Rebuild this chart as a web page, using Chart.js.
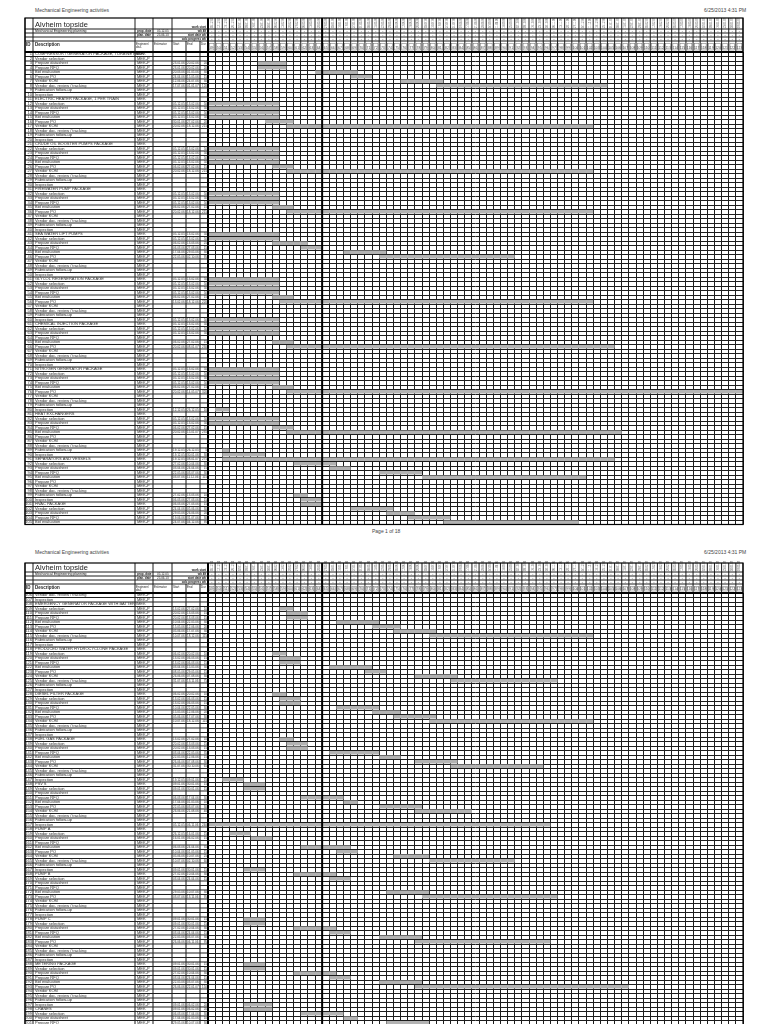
<!DOCTYPE html>
<html>
<head>
<meta charset="utf-8">
<script src="https://cdn.jsdelivr.net/npm/chart.js@4.4.1/dist/chart.umd.min.js"></script>
<style>
  body { margin: 0; width: 768px; height: 1024px; overflow: hidden; position: relative; background: #fff;
         font-family: "Liberation Sans", Arial, sans-serif; }
  .note { position: absolute; font-size: 5px; color: #444; white-space: nowrap; }
  canvas { position: absolute; left: 0; }
</style>
</head>
<body>
<div class="note" style="left:35px;top:7px">Mechanical Engineering activities</div>
<div class="note" style="left:704px;top:7px">6/25/2013 4:31 PM</div>
<div class="note" style="left:372px;top:528px">Page 1 of 18</div>
<div class="note" style="left:35px;top:549px">Mechanical Engineering activities</div>
<div class="note" style="left:704px;top:549px">6/25/2013 4:31 PM</div>
<canvas id="page1" width="768" height="540" style="top:0"></canvas>
<canvas id="page2" width="768" height="510" style="top:541px"></canvas>
<script>
// week columns of the schedule
const weekLabels = [49, 50, 51, 52, 53, 54, 55, 56, 57, 58, 59, 60, 61, 62, 63, 64, 65, 66, 67, 68,
  69, 70, 71, 72, 73, 74, 75, 76, 77, 78, 79, 80, 81, 82, 83, 84, 85, 86, 87, 88, 89, 90, 91, 92, 93,
  94, 95, 96, 97, 98, 99, 100, 101, 102, 103, 104, 105, 106, 107, 108, 109, 110, 111, 112, 113, 114,
  115, 116, 117, 118, 119, 120, 121, 122, 123];

const activityNames = ['Vendor selection', 'Prepare datasheet', 'Prepare RFQ', 'Bid evaluation',
  'Prepare PO', 'Vendor KOM', 'Vendor doc. review / tracking', 'Fabrication follow-up', 'Inspection'];

const packagesPage1 = ['COMPRESSOR / GENERATOR PACKAGE, TURBINE PACK', 'ELECTRIC HEATER PACKAGE, 1 PER TRAIN',
  'CRUDE OIL BOOSTER PUMPS PACKAGE', 'FIREWATER PUMP PACKAGE', 'SEA WATER LIFT PUMPS',
  'GLYCOL REGENERATION PACKAGE', 'CHEMICAL INJECTION PACKAGE', 'NITROGEN GENERATOR PACKAGE',
  'HEAT EXCHANGERS', 'SEPARATORS AND VESSELS', 'HVAC PACKAGE'];

const packagesPage2 = ['EMERGENCY GENERATOR PACKAGE WITH BATTERY', 'PRODUCED WATER HYDROCYCLONE PACKAGE',
  'DIESEL FILTER PACKAGE', 'FUEL GAS PACKAGE', "PSV'S", 'PUMP A', 'PUMP B', 'PUMP C',
  'METERING PACKAGE', 'CRANES'];

// [row, start week, end week]
const page1Bars = [
  [2, 56, 60], [3, 56, 60], [4, 64, 70], [5, 69, 72], [6, 76, 82], [7, 81, 105],
  [11, 49, 59], [12, 49, 59], [13, 49, 59], [14, 49, 59], [15, 57, 61], [16, 60, 103],
  [21, 49, 59], [22, 49, 59], [23, 49, 59], [24, 49, 59], [25, 58, 61], [26, 60, 103],
  [31, 49, 59], [32, 49, 59], [33, 49, 59], [34, 58, 61], [35, 60, 103],
  [40, 49, 59], [41, 49, 59], [42, 58, 63], [43, 62, 65], [44, 68, 74], [45, 73, 92],
  [50, 49, 59], [51, 49, 59], [52, 49, 59], [53, 49, 59], [54, 58, 61], [55, 59, 103],
  [59, 49, 59], [60, 49, 59], [61, 49, 59], [62, 49, 59], [64, 58, 61], [65, 60, 106],
  [70, 49, 59], [71, 49, 59], [72, 49, 59], [73, 49, 59], [74, 58, 61], [75, 60, 124],
  [79, 50, 52], [81, 49, 59], [82, 49, 59], [83, 58, 61], [84, 60, 107],
  [88, 51, 52], [89, 51, 57], [90, 51, 106], [91, 61, 67], [92, 66, 69], [93, 73, 79], [94, 79, 102],
  [98, 61, 63], [99, 62, 65], [100, 62, 65], [101, 69, 75], [102, 74, 78], [103, 77, 83], [104, 82, 101]
];

const page2Bars = [
  [3, 59, 61], [4, 60, 63], [5, 60, 63], [6, 67, 73], [7, 72, 76], [8, 75, 81], [9, 80, 103],
  [13, 58, 60], [14, 59, 62], [15, 59, 62], [16, 66, 72], [17, 71, 74], [18, 78, 84], [19, 83, 98],
  [22, 58, 60], [23, 59, 62], [24, 59, 62], [25, 67, 73], [26, 72, 76], [27, 75, 81], [28, 80, 103],
  [32, 59, 61], [33, 60, 63], [34, 60, 63], [35, 66, 73], [36, 73, 76], [37, 78, 84], [38, 83, 96],
  [41, 51, 54], [42, 54, 57], [43, 54, 57], [45, 62, 68], [46, 68, 70], [47, 73, 79], [48, 78, 86],
  [51, 49, 97],
  [53, 52, 55], [54, 55, 58], [56, 62, 69], [57, 67, 70], [58, 75, 80], [59, 80, 92],
  [61, 54, 57], [62, 61, 67], [63, 66, 69], [66, 74, 80], [67, 79, 98],
  [72, 54, 57], [73, 54, 57], [74, 61, 67], [75, 66, 69], [76, 73, 79], [77, 78, 97],
  [82, 54, 57], [83, 54, 57], [84, 61, 67], [85, 66, 69], [86, 73, 79], [87, 78, 108],
  [91, 54, 58], [92, 54, 58], [93, 62, 68], [94, 68, 70], [95, 74, 80], [96, 79, 100]
];

const LINE = '#1c1c1c';
const FONT = '"Liberation Sans", Arial, sans-serif';
const COLS = [25, 33, 135, 153, 172, 186, 200];
const weekStart = Date.UTC(2005, 11, 5);

function weekDate(w) {
  const d = new Date(weekStart + (w - weekLabels[0]) * 7 * 864e5);
  const p = n => String(n).padStart(2, '0');
  return p(d.getUTCDate()) + '.' + p(d.getUTCMonth() + 1) + '.' + String(d.getUTCFullYear()).slice(2);
}

function buildRows(lead, packages, count) {
  const rows = lead.map(t => ({ text: t, head: false }));
  packages.forEach(p => {
    rows.push({ text: p, head: true });
    activityNames.forEach(a => rows.push({ text: a, head: false }));
  });
  return rows.slice(0, count);
}

function sheetPlugin(rows, firstId, bars, tableTop) {
  const byRow = {};
  bars.forEach(([r, s, e]) => { byRow[r] = [s, e]; });
  return {
    id: 'sheet',
    beforeDatasetsDraw(chart) {
      const { ctx, chartArea: a, scales: { x, y } } = chart;
      const half = (y.getPixelForValue(1) - y.getPixelForValue(0)) / 2;
      const hT = tableTop, hB = a.top, band = (hB - hT - 12) / 2;
      const yA = hT + band, yB = yA + 4, yC = yB + 4, yD = yC + 4;
      const lastWeek = weekLabels[weekLabels.length - 1] + 1;
      ctx.save();
      ctx.strokeStyle = LINE;
      ctx.lineWidth = 1;

      // left table: row lines and column lines
      ctx.beginPath();
      rows.forEach((r, i) => {
        const yy = y.getPixelForValue(i) + half;
        ctx.moveTo(COLS[0], yy); ctx.lineTo(a.left, yy);
      });
      COLS.forEach(cx => { ctx.moveTo(cx, hB); ctx.lineTo(cx, a.bottom); });
      ctx.stroke();

      // left table texts
      ctx.fillStyle = '#333';
      ctx.textBaseline = 'middle';
      rows.forEach((r, i) => {
        const yy = y.getPixelForValue(i);
        ctx.font = '4px ' + FONT;
        ctx.textAlign = 'right';
        ctx.fillText(String(firstId + i), 32, yy);
        ctx.textAlign = 'left';
        ctx.fillText(r.text, 35, yy);
        ctx.fillText(r.head ? 'MEK' : 'MEK-P', 137, yy);
        const b = byRow[i];
        if (b) {
          ctx.font = '3px ' + FONT;
          ctx.fillText(weekDate(b[0]), 173, yy);
          ctx.fillText(weekDate(b[1]), 187, yy);
          ctx.textAlign = 'right';
          ctx.fillText(String((b[1] - b[0]) * 5), 207, yy);
        }
      });

      // header block: lines
      ctx.beginPath();
      [yA, yB, yC, yD].forEach(hy => { ctx.moveTo(COLS[0], hy); ctx.lineTo(a.right, hy); });
      [25, 33, 135, 153, 172, 208].forEach(cx => { ctx.moveTo(cx, hT); ctx.lineTo(cx, hB); });
      [186, 200].forEach(cx => { ctx.moveTo(cx, yD); ctx.lineTo(cx, hB); });
      for (let w = weekLabels[0]; w <= lastWeek; w++) {
        const px = x.getPixelForValue(w);
        ctx.moveTo(px, hT); ctx.lineTo(px, hB);
      }
      ctx.stroke();

      // header block: texts on the left
      ctx.fillStyle = '#222';
      ctx.textAlign = 'left';
      ctx.textBaseline = 'alphabetic';
      ctx.font = '7.5px ' + FONT;
      ctx.fillText('Alvheim topside', 35, yA - 2.5);
      ctx.font = '3.5px ' + FONT;
      ctx.fillText('Mechanical Engineering planning', 35, yB - 0.8);
      ctx.font = 'bold 3px ' + FONT;
      ctx.fillText('prop. date', 137, yB - 0.8);
      ctx.fillText('plan. date', 137, yC - 0.8);
      ctx.font = '3px ' + FONT;
      ctx.fillText('05.12.05', 157, yB - 0.8);
      ctx.fillText('25.06.13', 157, yC - 0.8);
      ctx.textAlign = 'right';
      ctx.font = 'bold 3px ' + FONT;
      ctx.fillText('work start', 206, yA - 1.5);
      ctx.fillText('wk 49', 206, yB - 0.8);
      ctx.fillText('start date wk', 206, yC - 0.8);
      ctx.fillText('calc progress wk', 206, yD - 0.8);
      ctx.textAlign = 'left';
      ctx.font = 'bold 4.5px ' + FONT;
      ctx.fillText('ID', 26, yD + 5);
      ctx.fillText('Description', 35, yD + 5);
      ctx.font = '3px ' + FONT;
      ctx.fillText('Engineer/', 136, yD + 3.5);
      ctx.fillText('disc.', 136, yD + 7);
      ctx.fillText('Estimator', 154, yD + 3.5);
      ctx.fillText('Start', 173, yD + 3.5);
      ctx.fillText('End', 187, yD + 3.5);
      ctx.fillText('Dur', 201, yD + 3.5);

      // header block: week columns
      weekLabels.forEach(w => {
        const cx = x.getPixelForValue(w + 0.5);
        const cw = x.getPixelForValue(w + 1) - x.getPixelForValue(w);
        ctx.save();
        ctx.translate(cx + 1, yA - 1);
        ctx.rotate(-Math.PI / 2);
        ctx.font = '2.6px ' + FONT;
        ctx.textAlign = 'left';
        ctx.fillStyle = '#555';
        ctx.fillText(weekDate(w), 0, 0);
        ctx.restore();
        ctx.fillStyle = '#777';
        ctx.font = '2.4px ' + FONT;
        ctx.textAlign = 'center';
        ctx.fillText('0', cx, yB - 0.8);
        ctx.fillText('0', cx, yC - 0.8);
        ctx.fillText('0', cx, yD - 0.8);
        ctx.save();
        ctx.lineWidth = 0.5;
        ctx.strokeStyle = '#666';
        ctx.strokeRect(cx - cw / 2 + 1.2, yD + 2.5, cw - 2.4, hB - yD - 4.5);
        ctx.restore();
        ctx.fillStyle = '#444';
        ctx.font = '3.4px ' + FONT;
        ctx.fillText(String(w), cx, hB - 3);
      });
      ctx.restore();
    },
    afterDatasetsDraw(chart) {
      const { ctx, chartArea: a, scales: { x } } = chart;
      ctx.save();
      ctx.strokeStyle = '#000';
      ctx.lineWidth = 2;
      const px = x.getPixelForValue(65);
      ctx.beginPath();
      ctx.moveTo(px, tableTop); ctx.lineTo(px, a.bottom);
      ctx.moveTo(COLS[0], a.top); ctx.lineTo(a.right, a.top);
      ctx.moveTo(a.left, tableTop); ctx.lineTo(a.left, a.bottom);
      ctx.stroke();
      ctx.lineWidth = 1.2;
      ctx.strokeRect(COLS[0], tableTop, a.right - COLS[0], a.bottom - tableTop);
      ctx.restore();
    }
  };
}

function makePage(canvasId, rows, firstId, bars, tableTop, rowCount, canvasHeight) {
  const labels = rows.map((r, i) => String(firstId + i));
  const data = rows.map(() => null);
  bars.forEach(([r, s, e]) => { data[r] = [s, e]; });
  const top = 52, rowH = 4.5;
  return new Chart(document.getElementById(canvasId), {
    type: 'bar',
    data: {
      labels,
      datasets: [{
        data,
        backgroundColor: '#b3b3b3',
        borderWidth: 0,
        barPercentage: 1,
        categoryPercentage: 0.8
      }]
    },
    options: {
      indexAxis: 'y',
      responsive: false,
      animation: false,
      layout: { padding: { left: 208, right: 25, top, bottom: canvasHeight - top - rowCount * rowH } },
      plugins: { legend: { display: false }, tooltip: { enabled: false } },
      scales: {
        x: {
          type: 'linear',
          position: 'top',
          min: weekLabels[0],
          max: weekLabels[weekLabels.length - 1] + 1,
          ticks: { display: false, stepSize: 1, maxTicksLimit: 200, autoSkip: false },
          grid: { color: LINE, lineWidth: 1, drawTicks: false },
          border: { display: false },
          afterFit: s => { s.height = 0; }
        },
        y: {
          ticks: { display: false, autoSkip: false },
          grid: { color: LINE, lineWidth: 1, drawTicks: false, offset: true },
          border: { display: false },
          afterFit: s => { s.width = 0; }
        }
      }
    },
    plugins: [sheetPlugin(rows, firstId, bars, tableTop)]
  });
}

const rows1 = buildRows([], packagesPage1, 105);
const rows2 = buildRows(['Vendor doc. review / tracking', 'Inspection'], packagesPage2, 99);
makePage('page1', rows1, 1, page1Bars, 18, 105, 540);
makePage('page2', rows2, 106, page2Bars, 22, 99, 510);
</script>
</body>
</html>
